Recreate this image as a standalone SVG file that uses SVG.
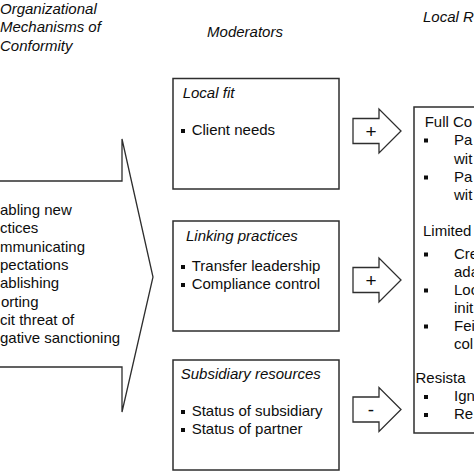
<svg xmlns="http://www.w3.org/2000/svg" width="474" height="474" viewBox="0 0 474 474">
<style>
text{font-family:"Liberation Sans",Arial,sans-serif;font-size:15px;fill:#0d0d0d}
.it{font-style:italic}
.box{fill:#fff;stroke:#2e2e2e;stroke-width:1.5}
.bul{fill:#0d0d0d}
.blk{fill:#fff;stroke:#2e2e2e;stroke-width:1.3;stroke-linejoin:miter}
.sign{font-size:19px;text-anchor:middle}
</style>
<defs>
<path id="blockArrow" d="M0,-12.5 H26 V-22 L48,0 L26,22 V12.5 H0 Z"/>
<rect id="sq" width="4" height="4"/>
</defs>
<rect width="474" height="474" fill="#fff"/>

<g id="headings">
<text class="it" x="0" y="14">Organizational</text>
<text class="it" x="0" y="32.3">Mechanisms of</text>
<text class="it" x="0" y="50.7">Conformity</text>
<text class="it" x="245" y="37" text-anchor="middle">Moderators</text>
<text class="it" x="423" y="22">Local R</text>
</g>

<g id="mechanisms">
<path d="M-5,181 H122 V139 L153,277 L122,412 V367 H-5" fill="#fff" stroke="#2e2e2e" stroke-width="1.3"/>
<text x="0" y="215">abling new</text>
<text x="0" y="233">ctices</text>
<text x="0" y="252">mmunicating</text>
<text x="0" y="270">pectations</text>
<text x="0" y="288">ablishing</text>
<text x="1" y="307">orting</text>
<text x="0" y="325">cit threat of</text>
<text x="0" y="343">gative sanctioning</text>
</g>

<g id="local-fit">
<rect class="box" x="173" y="78.5" width="166" height="110.5"/>
<text class="it" x="182.7" y="98">Local fit</text>
<use href="#sq" x="181" y="129" class="bul"/>
<text x="191.7" y="135">Client needs</text>
</g>

<g id="linking-practices">
<rect class="box" x="173" y="221" width="166" height="110"/>
<text class="it" x="186" y="241">Linking practices</text>
<use href="#sq" x="181" y="265" class="bul"/>
<text x="191.7" y="271">Transfer leadership</text>
<use href="#sq" x="181" y="283" class="bul"/>
<text x="191.7" y="289">Compliance control</text>
</g>

<g id="subsidiary-resources">
<rect class="box" x="173" y="360" width="166" height="110"/>
<text class="it" x="180.7" y="379">Subsidiary resources</text>
<use href="#sq" x="181" y="410" class="bul"/>
<text x="191.7" y="416">Status of subsidiary</text>
<use href="#sq" x="181" y="428" class="bul"/>
<text x="191.7" y="434">Status of partner</text>
</g>

<g id="connectors">
<use href="#blockArrow" x="353" y="131" class="blk"/>
<text class="sign" x="371" y="137.5">+</text>
<use href="#blockArrow" x="353" y="280" class="blk"/>
<text class="sign" x="371" y="286.5">+</text>
<use href="#blockArrow" x="353" y="409.5" class="blk"/>
<text class="sign" x="371" y="415.5">-</text>
</g>

<g id="local-responses">
<rect class="box" x="414" y="107" width="70" height="326"/>
<text x="424.7" y="127">Full Co</text>
<use href="#sq" x="424" y="138.5" class="bul"/>
<text x="454" y="145">Pa</text>
<text x="454" y="164">wit</text>
<use href="#sq" x="424" y="175.5" class="bul"/>
<text x="454" y="182">Pa</text>
<text x="454" y="200">wit</text>
<text x="423" y="236">Limited</text>
<use href="#sq" x="424" y="252.5" class="bul"/>
<text x="454" y="259">Cre</text>
<text x="454" y="277">ada</text>
<use href="#sq" x="424" y="288.5" class="bul"/>
<text x="454" y="295">Loc</text>
<text x="454" y="313">init</text>
<use href="#sq" x="424" y="324.5" class="bul"/>
<text x="454" y="331">Fei</text>
<text x="454" y="349">col</text>
<text x="415.5" y="383">Resista</text>
<use href="#sq" x="424" y="395" class="bul"/>
<text x="454" y="401">Ign</text>
<use href="#sq" x="424" y="413" class="bul"/>
<text x="454" y="419">Re</text>
</g>
</svg>
